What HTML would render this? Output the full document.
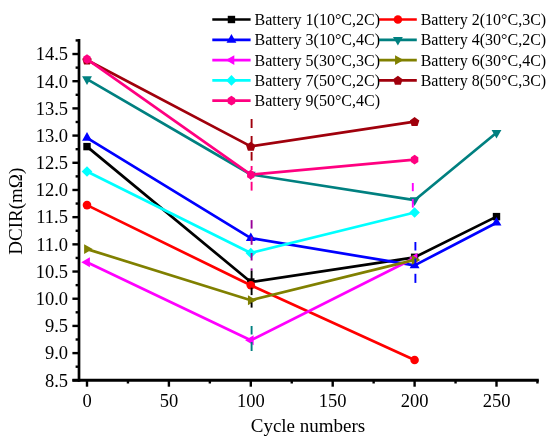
<!DOCTYPE html><html><head><meta charset="utf-8"><style>html,body{margin:0;padding:0;background:#fff;width:550px;height:440px;overflow:hidden}svg{display:block;will-change:transform}text{font-family:"Liberation Serif",serif;fill:#000}</style></head><body>
<svg width="550" height="440" viewBox="0 0 550 440">
<g stroke="#000" fill="none">
<line x1="79" y1="39" x2="79" y2="381.8" stroke-width="2.7"/>
<line x1="72.4" y1="380.3" x2="538.8" y2="380.3" stroke-width="3"/>
<line x1="72.4" y1="380.3" x2="79" y2="380.3" stroke-width="2.4"/>
<line x1="75.6" y1="366.7" x2="79" y2="366.7" stroke-width="2.4"/>
<line x1="72.4" y1="353.11" x2="79" y2="353.11" stroke-width="2.4"/>
<line x1="75.6" y1="339.51" x2="79" y2="339.51" stroke-width="2.4"/>
<line x1="72.4" y1="325.92" x2="79" y2="325.92" stroke-width="2.4"/>
<line x1="75.6" y1="312.32" x2="79" y2="312.32" stroke-width="2.4"/>
<line x1="72.4" y1="298.73" x2="79" y2="298.73" stroke-width="2.4"/>
<line x1="75.6" y1="285.13" x2="79" y2="285.13" stroke-width="2.4"/>
<line x1="72.4" y1="271.54" x2="79" y2="271.54" stroke-width="2.4"/>
<line x1="75.6" y1="257.94" x2="79" y2="257.94" stroke-width="2.4"/>
<line x1="72.4" y1="244.35" x2="79" y2="244.35" stroke-width="2.4"/>
<line x1="75.6" y1="230.75" x2="79" y2="230.75" stroke-width="2.4"/>
<line x1="72.4" y1="217.16" x2="79" y2="217.16" stroke-width="2.4"/>
<line x1="75.6" y1="203.56" x2="79" y2="203.56" stroke-width="2.4"/>
<line x1="72.4" y1="189.97" x2="79" y2="189.97" stroke-width="2.4"/>
<line x1="75.6" y1="176.38" x2="79" y2="176.38" stroke-width="2.4"/>
<line x1="72.4" y1="162.78" x2="79" y2="162.78" stroke-width="2.4"/>
<line x1="75.6" y1="149.19" x2="79" y2="149.19" stroke-width="2.4"/>
<line x1="72.4" y1="135.59" x2="79" y2="135.59" stroke-width="2.4"/>
<line x1="75.6" y1="122" x2="79" y2="122" stroke-width="2.4"/>
<line x1="72.4" y1="108.4" x2="79" y2="108.4" stroke-width="2.4"/>
<line x1="75.6" y1="94.81" x2="79" y2="94.81" stroke-width="2.4"/>
<line x1="72.4" y1="81.21" x2="79" y2="81.21" stroke-width="2.4"/>
<line x1="75.6" y1="67.62" x2="79" y2="67.62" stroke-width="2.4"/>
<line x1="72.4" y1="54.02" x2="79" y2="54.02" stroke-width="2.4"/>
<line x1="75.6" y1="40.43" x2="79" y2="40.43" stroke-width="2.4"/>
<line x1="87" y1="380" x2="87" y2="386.7" stroke-width="2.4"/>
<line x1="127.95" y1="380" x2="127.95" y2="383.5" stroke-width="2.4"/>
<line x1="168.9" y1="380" x2="168.9" y2="386.7" stroke-width="2.4"/>
<line x1="209.85" y1="380" x2="209.85" y2="383.5" stroke-width="2.4"/>
<line x1="250.8" y1="380" x2="250.8" y2="386.7" stroke-width="2.4"/>
<line x1="291.75" y1="380" x2="291.75" y2="383.5" stroke-width="2.4"/>
<line x1="332.7" y1="380" x2="332.7" y2="386.7" stroke-width="2.4"/>
<line x1="373.65" y1="380" x2="373.65" y2="383.5" stroke-width="2.4"/>
<line x1="414.6" y1="380" x2="414.6" y2="386.7" stroke-width="2.4"/>
<line x1="455.55" y1="380" x2="455.55" y2="383.5" stroke-width="2.4"/>
<line x1="496.5" y1="380" x2="496.5" y2="386.7" stroke-width="2.4"/>
<line x1="537.45" y1="380" x2="537.45" y2="383.5" stroke-width="2.4"/>
</g>
<g font-size="18.5">
<text x="68" y="386.6" text-anchor="end">8.5</text>
<text x="68" y="359.41" text-anchor="end">9.0</text>
<text x="68" y="332.22" text-anchor="end">9.5</text>
<text x="68" y="305.03" text-anchor="end">10.0</text>
<text x="68" y="277.84" text-anchor="end">10.5</text>
<text x="68" y="250.65" text-anchor="end">11.0</text>
<text x="68" y="223.46" text-anchor="end">11.5</text>
<text x="68" y="196.27" text-anchor="end">12.0</text>
<text x="68" y="169.08" text-anchor="end">12.5</text>
<text x="68" y="141.89" text-anchor="end">13.0</text>
<text x="68" y="114.7" text-anchor="end">13.5</text>
<text x="68" y="87.51" text-anchor="end">14.0</text>
<text x="68" y="60.32" text-anchor="end">14.5</text>
<text x="87" y="406.5" text-anchor="middle">0</text>
<text x="168.9" y="406.5" text-anchor="middle">50</text>
<text x="250.8" y="406.5" text-anchor="middle">100</text>
<text x="332.7" y="406.5" text-anchor="middle">150</text>
<text x="414.6" y="406.5" text-anchor="middle">200</text>
<text x="496.5" y="406.5" text-anchor="middle">250</text>
</g>
<text x="308" y="431.6" font-size="19" text-anchor="middle">Cycle numbers</text>
<text transform="translate(22.4,211.2) rotate(-90)" font-size="19" text-anchor="middle">DCIR(m&#937;)</text>
<polyline points="87,146.6 250.8,282 414.6,257.3 496.5,216.6" fill="none" stroke="#000000" stroke-width="2.7" stroke-linejoin="round"/>
<rect x="83.3" y="142.9" width="7.4" height="7.4" fill="#000000"/>
<rect x="247.1" y="278.3" width="7.4" height="7.4" fill="#000000"/>
<rect x="410.9" y="253.6" width="7.4" height="7.4" fill="#000000"/>
<rect x="492.8" y="212.9" width="7.4" height="7.4" fill="#000000"/>
<polyline points="87,205.1 250.8,285.3 414.6,360" fill="none" stroke="#ff0000" stroke-width="2.7" stroke-linejoin="round"/>
<circle cx="87" cy="205.1" r="4.3" fill="#ff0000"/>
<circle cx="250.8" cy="285.3" r="4.3" fill="#ff0000"/>
<circle cx="414.6" cy="360" r="4.3" fill="#ff0000"/>
<polyline points="87,137.8 250.8,238.2 414.6,265.4 496.5,222.7" fill="none" stroke="#0000ff" stroke-width="2.7" stroke-linejoin="round"/>
<polygon points="87,132.1 82.06,140.65 91.94,140.65" fill="#0000ff"/>
<polygon points="250.8,232.5 245.86,241.05 255.74,241.05" fill="#0000ff"/>
<polygon points="414.6,259.7 409.66,268.25 419.54,268.25" fill="#0000ff"/>
<polygon points="496.5,217 491.56,225.55 501.44,225.55" fill="#0000ff"/>
<polyline points="87,79.2 250.8,174.5 414.6,200.2 496.5,132.8" fill="none" stroke="#008080" stroke-width="2.7" stroke-linejoin="round"/>
<polygon points="82.06,76.35 91.94,76.35 87,84.9" fill="#008080"/>
<polygon points="245.86,171.65 255.74,171.65 250.8,180.2" fill="#008080"/>
<polygon points="409.66,197.35 419.54,197.35 414.6,205.9" fill="#008080"/>
<polygon points="491.56,129.95 501.44,129.95 496.5,138.5" fill="#008080"/>
<polyline points="87,262.3 250.8,340.3 414.6,258" fill="none" stroke="#ff00ff" stroke-width="2.7" stroke-linejoin="round"/>
<polygon points="81.3,262.3 89.85,257.36 89.85,267.24" fill="#ff00ff"/>
<polygon points="245.1,340.3 253.65,335.36 253.65,345.24" fill="#ff00ff"/>
<polygon points="408.9,258 417.45,253.06 417.45,262.94" fill="#ff00ff"/>
<polyline points="87,249.1 250.8,300.2 414.6,259.9" fill="none" stroke="#808000" stroke-width="2.7" stroke-linejoin="round"/>
<polygon points="92.7,249.1 84.15,244.16 84.15,254.04" fill="#808000"/>
<polygon points="256.5,300.2 247.95,295.26 247.95,305.14" fill="#808000"/>
<polygon points="420.3,259.9 411.75,254.96 411.75,264.84" fill="#808000"/>
<polyline points="87,171.5 250.8,253 414.6,212.5" fill="none" stroke="#00ffff" stroke-width="2.7" stroke-linejoin="round"/>
<polygon points="87,166.2 92.3,171.5 87,176.8 81.7,171.5" fill="#00ffff"/>
<polygon points="250.8,247.7 256.1,253 250.8,258.3 245.5,253" fill="#00ffff"/>
<polygon points="414.6,207.2 419.9,212.5 414.6,217.8 409.3,212.5" fill="#00ffff"/>
<polyline points="87,60 250.8,146.4 414.6,121.6" fill="none" stroke="#a0000c" stroke-width="2.7" stroke-linejoin="round"/>
<polygon points="87,55.4 91.76,58.85 89.94,64.45 84.06,64.45 82.24,58.85" fill="#a0000c"/>
<polygon points="250.8,141.8 255.56,145.25 253.74,150.85 247.86,150.85 246.04,145.25" fill="#a0000c"/>
<polygon points="414.6,117 419.36,120.45 417.54,126.05 411.66,126.05 409.84,120.45" fill="#a0000c"/>
<polyline points="87,59.1 250.8,174.7 414.6,159.6" fill="none" stroke="#ff0080" stroke-width="2.7" stroke-linejoin="round"/>
<polygon points="87,54.2 90.73,56.65 90.73,61.55 87,64 83.27,61.55 83.27,56.65" fill="#ff0080"/>
<polygon points="250.8,169.8 254.53,172.25 254.53,177.15 250.8,179.6 247.07,177.15 247.07,172.25" fill="#ff0080"/>
<polygon points="414.6,154.7 418.33,157.15 418.33,162.05 414.6,164.5 410.87,162.05 410.87,157.15" fill="#ff0080"/>
<line x1="251.6" y1="119" x2="251.6" y2="128" stroke="#a0000c" stroke-width="1.9"/>
<line x1="251.6" y1="136" x2="251.6" y2="143" stroke="#a0000c" stroke-width="1.9"/>
<line x1="251.6" y1="152" x2="251.6" y2="160.6" stroke="#a0000c" stroke-width="1.9"/>
<line x1="251.6" y1="166" x2="251.6" y2="170" stroke="#ff0080" stroke-width="1.9"/>
<line x1="251.6" y1="181.8" x2="251.6" y2="190.6" stroke="#ff0080" stroke-width="1.9"/>
<line x1="251.6" y1="220.1" x2="251.6" y2="228.6" stroke="#990099" stroke-width="1.9"/>
<line x1="251.6" y1="236.6" x2="251.6" y2="244.8" stroke="#990099" stroke-width="1.9"/>
<line x1="251.6" y1="253" x2="251.6" y2="260.5" stroke="#990099" stroke-width="1.9"/>
<line x1="251.6" y1="268.4" x2="251.6" y2="270.7" stroke="#990099" stroke-width="1.9"/>
<line x1="251.6" y1="270.7" x2="251.6" y2="280" stroke="#000000" stroke-width="1.9"/>
<line x1="251.6" y1="287.7" x2="251.6" y2="295.1" stroke="#000000" stroke-width="1.9"/>
<line x1="251.6" y1="302.5" x2="251.6" y2="307.6" stroke="#000000" stroke-width="1.9"/>
<line x1="251.6" y1="326" x2="251.6" y2="334.5" stroke="#008080" stroke-width="1.9"/>
<line x1="251.6" y1="342" x2="251.6" y2="351" stroke="#008080" stroke-width="1.9"/>
<line x1="412.8" y1="183" x2="412.8" y2="191.2" stroke="#ff00ff" stroke-width="1.9"/>
<line x1="412.8" y1="199" x2="412.8" y2="207.6" stroke="#ff00ff" stroke-width="1.9"/>
<line x1="415.4" y1="242" x2="415.4" y2="250.5" stroke="#0000ff" stroke-width="1.9"/>
<line x1="415.4" y1="258.5" x2="415.4" y2="264.7" stroke="#0000ff" stroke-width="1.9"/>
<line x1="415.4" y1="273.8" x2="415.4" y2="282.9" stroke="#0000ff" stroke-width="1.9"/>
<line x1="212.3" y1="19.5" x2="250.6" y2="19.5" stroke="#000000" stroke-width="2.7"/>
<rect x="227.75" y="15.8" width="7.4" height="7.4" fill="#000000"/>
<text x="254.5" y="24.7" font-size="16">Battery 1(10&#176;C,2C)</text>
<line x1="379.0" y1="19.5" x2="416.8" y2="19.5" stroke="#ff0000" stroke-width="2.7"/>
<circle cx="397.9" cy="19.5" r="4.3" fill="#ff0000"/>
<text x="420.7" y="24.7" font-size="16">Battery 2(10&#176;C,3C)</text>
<line x1="212.3" y1="39.8" x2="250.6" y2="39.8" stroke="#0000ff" stroke-width="2.7"/>
<polygon points="231.45,34.1 226.51,42.65 236.39,42.65" fill="#0000ff"/>
<text x="254.5" y="45.12" font-size="16">Battery 3(10&#176;C,4C)</text>
<line x1="379.0" y1="39.8" x2="416.8" y2="39.8" stroke="#008080" stroke-width="2.7"/>
<polygon points="392.96,36.95 402.84,36.95 397.9,45.5" fill="#008080"/>
<text x="420.7" y="45.12" font-size="16">Battery 4(30&#176;C,2C)</text>
<line x1="212.3" y1="60.1" x2="250.6" y2="60.1" stroke="#ff00ff" stroke-width="2.7"/>
<polygon points="225.75,60.1 234.3,55.16 234.3,65.04" fill="#ff00ff"/>
<text x="254.5" y="65.54" font-size="16">Battery 5(30&#176;C,3C)</text>
<line x1="379.0" y1="60.1" x2="416.8" y2="60.1" stroke="#808000" stroke-width="2.7"/>
<polygon points="403.6,60.1 395.05,55.16 395.05,65.04" fill="#808000"/>
<text x="420.7" y="65.54" font-size="16">Battery 6(30&#176;C,4C)</text>
<line x1="212.3" y1="80.4" x2="250.6" y2="80.4" stroke="#00ffff" stroke-width="2.7"/>
<polygon points="231.45,75.1 236.75,80.4 231.45,85.7 226.15,80.4" fill="#00ffff"/>
<text x="254.5" y="85.96" font-size="16">Battery 7(50&#176;C,2C)</text>
<line x1="379.0" y1="80.4" x2="416.8" y2="80.4" stroke="#a0000c" stroke-width="2.7"/>
<polygon points="397.9,75.8 402.66,79.25 400.84,84.85 394.96,84.85 393.14,79.25" fill="#a0000c"/>
<text x="420.7" y="85.96" font-size="16">Battery 8(50&#176;C,3C)</text>
<line x1="212.3" y1="100.7" x2="250.6" y2="100.7" stroke="#ff0080" stroke-width="2.7"/>
<polygon points="231.45,95.8 235.18,98.25 235.18,103.15 231.45,105.6 227.72,103.15 227.72,98.25" fill="#ff0080"/>
<text x="254.5" y="106.38" font-size="16">Battery 9(50&#176;C,4C)</text>
</svg></body></html>
